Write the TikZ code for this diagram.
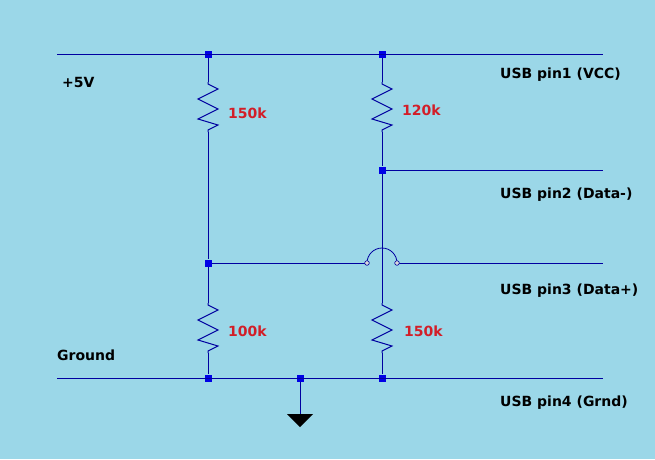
\documentclass[tikz,border=0pt]{standalone}
\usepackage{fontspec}
\setmainfont{DejaVu Sans}
\begin{document}
\begin{tikzpicture}[x=1pt,y=-1pt,
  wire/.style={draw={rgb,255:red,0;green,0;blue,160},line width=1pt},
  dot/.style={fill={rgb,255:red,0;green,0;blue,230},minimum size=7pt,inner sep=0,rectangle},
  lbl/.style={font=\bfseries\fontsize{14}{16}\selectfont,anchor=west,text=black,inner sep=0},
  rlbl/.style={font=\bfseries\fontsize{14}{16}\selectfont,anchor=west,text={rgb,255:red,210;green,30;blue,40},inner sep=0},
  res/.pic={\draw[wire] (0,0)--(0,2)--(10,7)--(-10,17)--(10,27)--(-10,37)--(10,43)--(0,48)--(0,50);}]
\fill[fill={rgb,255:red,155;green,215;blue,232}] (0,0) rectangle (655,459);
\useasboundingbox (0,0) rectangle (655,459);
% coordinates
\coordinate (tl) at (57,54); \coordinate (tr) at (603,54);
\coordinate (bl) at (57,378); \coordinate (br) at (603,378);
\node[dot] (a1) at (208,54) {}; \node[dot] (b1) at (382,54) {};
\node[dot] (a2) at (208,263) {}; \node[dot] (b2) at (382,170) {};
\node[dot] (a3) at (208,378) {}; \node[dot] (b3) at (382,378) {};
\node[dot] (g) at (300,378) {};
\coordinate (r1t) at (208,82); \coordinate (r1b) at (208,132);
\coordinate (r2t) at (382,82); \coordinate (r2b) at (382,132);
\coordinate (r3t) at (208,303); \coordinate (r3b) at (208,353);
\coordinate (r4t) at (382,303); \coordinate (r4b) at (382,353);
\coordinate (hl) at (367,263); \coordinate (hr) at (397,263);
\coordinate (d2) at (603,170); \coordinate (d3) at (603,263);
\coordinate (gt) at (300,414);
% wires
\draw[wire] (tl)--(tr); \draw[wire] (bl)--(br);
\draw[wire] (a1)--(r1t); \draw[wire] (r1b)--(a2)--(r3t); \draw[wire] (r3b)--(a3);
\draw[wire] (b1)--(r2t); \draw[wire] (r2b)--(b2)--(r4t); \draw[wire] (r4b)--(b3);
\draw[wire] (b2)--(d2);
\draw[wire] (a2)--(hl); \draw[wire] (hr)--(d3);
\draw[wire,line width=0.8pt] (hl) arc[start angle=180,end angle=360,radius=15];
\draw[draw={rgb,255:red,0;green,0;blue,160},fill=white!70!gray,line width=0.6pt] (hl) circle (2.3) (hr) circle (2.3);
\draw[wire] (g)--(gt);
\fill (287,414)--(313,414)--(300,427)--cycle;
\pic at (r1t) {res}; \pic at (r2t) {res}; \pic at (r3t) {res}; \pic at (r4t) {res};
\node[rlbl] at (228,113) {150k};
\node[rlbl] at (402,110) {120k};
\node[rlbl] at (228,331) {100k};
\node[rlbl] at (404,331) {150k};
\node[lbl] at (62,82) {+5V};
\node[lbl] at (57,355) {Ground};
\node[lbl] at (500,75) {USB pin1 (VCC)};
\node[lbl] at (500,195) {USB pin2 (Data-)};
\node[lbl] at (500,291) {USB pin3 (Data+)};
\node[lbl] at (500,403) {USB pin4 (Grnd)};
\end{tikzpicture}
\end{document}
